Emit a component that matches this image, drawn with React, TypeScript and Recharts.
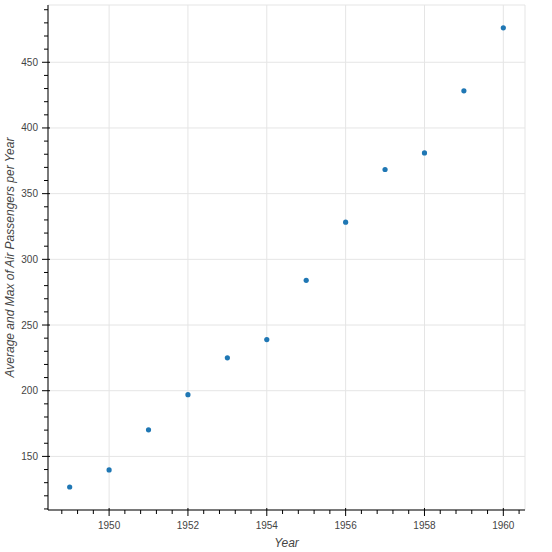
import {
  ReferenceArea,
  ReferenceLine,
  Scatter,
  ScatterChart,
  XAxis,
  YAxis,
} from "recharts";

const years = [1949, 1950, 1951, 1952, 1953, 1954, 1955, 1956, 1957, 1958, 1959, 1960];
const avgPassengers = [126.7, 139.7, 170.2, 197.0, 225.0, 238.9, 284.0, 328.3, 368.4, 381.0, 428.3, 476.2];

const xMajorTicks = [1950, 1952, 1954, 1956, 1958, 1960];
const xAllTicks = [
  1948.8, 1949.2, 1949.6, 1950, 1950.4, 1950.8, 1951.2, 1951.6, 1952, 1952.4, 1952.8,
  1953.2, 1953.6, 1954, 1954.4, 1954.8, 1955.2, 1955.6, 1956, 1956.4, 1956.8, 1957.2,
  1957.6, 1958, 1958.4, 1958.8, 1959.2, 1959.6, 1960, 1960.4,
];
const yMajorTicks = [150, 200, 250, 300, 350, 400, 450];
const yAllTicks = [
  110, 120, 130, 140, 150, 160, 170, 180, 190, 200, 210, 220, 230, 240, 250, 260, 270,
  280, 290, 300, 310, 320, 330, 340, 350, 360, 370, 380, 390, 400, 410, 420, 430, 440,
  450, 460, 470, 480, 490,
];

const xDomain: [number, number] = [1948.45, 1960.55];
const yDomain: [number, number] = [109.2, 493.6];

const data = years.map((year, i) => ({ year, value: avgPassengers[i] }));

const FONT = '"Liberation Sans", Arial, Helvetica, sans-serif';
const GRID = "#e5e5e5";
const TEXT = "#444";

const isMajor = (list: number[], v: number) => list.some((m) => Math.abs(m - v) < 1e-6);

function XTick({ x, y, payload }: any) {
  const major = isMajor(xMajorTicks, payload.value);
  return (
    <g>
      <line x1={x} x2={x} y1={major ? y - 2 : y} y2={major ? y + 6 : y + 4} stroke="#000" />
      {major && (
        <text x={x} y={y + 19} textAnchor="middle" fontSize={10} fill={TEXT} fontFamily={FONT}>
          {payload.value}
        </text>
      )}
    </g>
  );
}

function YTick({ x, y, payload }: any) {
  const major = isMajor(yMajorTicks, payload.value);
  return (
    <g>
      <line x1={major ? x - 6 : x - 4} x2={major ? x + 2 : x} y1={y} y2={y} stroke="#000" />
      {major && (
        <text x={x - 10} y={y + 3.5} textAnchor="end" fontSize={10} fill={TEXT} fontFamily={FONT}>
          {payload.value}
        </text>
      )}
    </g>
  );
}

export default function App() {
  return (
    <div style={{ position: "absolute", left: 0, top: 0, width: 552, height: 552, background: "#fff" }}>
      <ScatterChart width={552} height={552} margin={{ top: 5, right: 27, bottom: 0, left: 0 }}>
        <XAxis
          type="number"
          dataKey="year"
          domain={xDomain}
          ticks={xAllTicks}
          interval={0}
          allowDataOverflow
          height={42}
          tickSize={0}
          tickMargin={0}
          tickLine={false}
          axisLine={{ stroke: "#000" }}
          tick={<XTick />}
          label={{
            content: ({ viewBox }: any) => (
              <text
                x={viewBox.x + viewBox.width / 2}
                y={viewBox.y + 37}
                textAnchor="middle"
                fontSize={12}
                fontStyle="italic"
                fill={TEXT}
                fontFamily={FONT}
              >
                Year
              </text>
            ),
          }}
        />
        <YAxis
          type="number"
          dataKey="value"
          domain={yDomain}
          ticks={yAllTicks}
          interval={0}
          allowDataOverflow
          width={48}
          tickSize={0}
          tickMargin={0}
          tickLine={false}
          axisLine={{ stroke: "#000" }}
          tick={<YTick />}
          label={{
            content: ({ viewBox }: any) => {
              const cx = viewBox.x + 14;
              const cy = viewBox.y + viewBox.height / 2;
              return (
                <text
                  x={cx}
                  y={cy}
                  transform={`rotate(-90, ${cx}, ${cy})`}
                  textAnchor="middle"
                  fontSize={12}
                  fontStyle="italic"
                  fill={TEXT}
                  fontFamily={FONT}
                >
                  Average and Max of Air Passengers per Year
                </text>
              );
            },
          }}
        />
        <ReferenceArea
          x1={xDomain[0]}
          x2={xDomain[1]}
          y1={yDomain[0]}
          y2={yDomain[1]}
          fill="none"
          stroke={GRID}
          strokeOpacity={1}
        />
        {xMajorTicks.map((v) => (
          <ReferenceLine key={`x${v}`} x={v} stroke={GRID} />
        ))}
        {yMajorTicks.map((v) => (
          <ReferenceLine key={`y${v}`} y={v} stroke={GRID} />
        ))}
        <Scatter
          data={data}
          fill="#1f77b4"
          isAnimationActive={false}
          shape={(p: any) => <circle cx={p.cx} cy={p.cy} r={2.6} fill="#1f77b4" />}
        />
      </ScatterChart>
    </div>
  );
}
